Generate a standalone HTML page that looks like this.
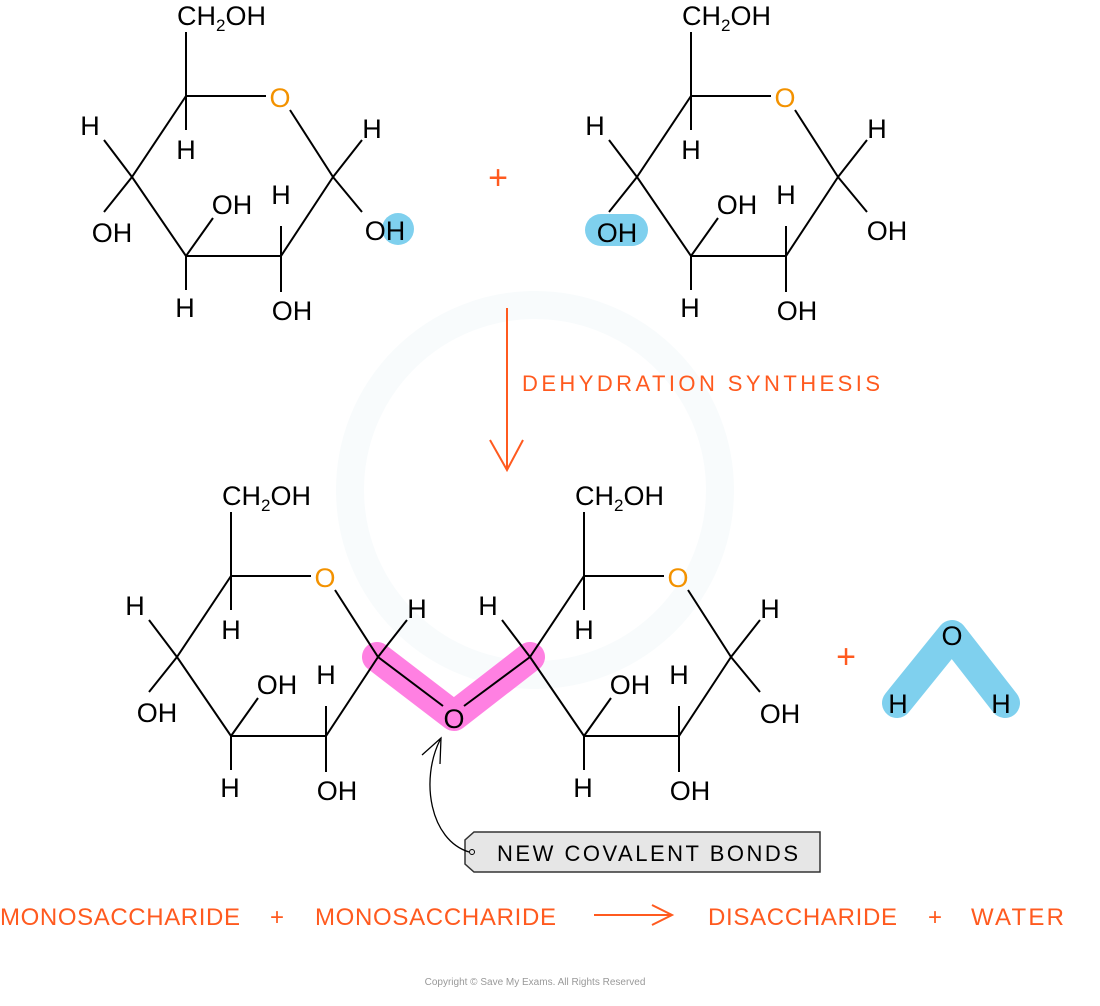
<!DOCTYPE html>
<html><head><meta charset="utf-8"><style>
html,body{margin:0;padding:0;background:#fff;}
svg{display:block;}
text{font-family:"Liberation Sans",Arial,sans-serif;}
</style></head><body>
<svg width="1100" height="1006" viewBox="0 0 1100 1006" xmlns="http://www.w3.org/2000/svg">
<circle cx="535" cy="490" r="185" fill="none" stroke="#f8fbfc" stroke-width="28"/>

<circle cx="398" cy="229" r="16" fill="#7fd0ee"/>
<rect x="585" y="214" width="63" height="32" rx="16" fill="#7fd0ee"/>
<polyline points="377,657 454,716 530,657" fill="none" stroke="#ff80e2" stroke-width="30" stroke-linecap="round" stroke-linejoin="round"/>
<polyline points="897,703 952,635 1005,703" fill="none" stroke="#7fd0ee" stroke-width="30" stroke-linecap="round" stroke-linejoin="round"/>

<g stroke="#000" stroke-width="2" fill="none">
<g>
<path d="M186 32V96H266M186 96V130M186 96L132 177L186 256H281L333 177L290 110M186 256L213 218M186 256V290M281 256V226M281 256V292M104 140L132 177L104 212M333 177L362 140M333 177L362 212"/>
</g>
<g transform="translate(505,0)">
<path d="M186 32V96H266M186 96V130M186 96L132 177L186 256H281L333 177L290 110M186 256L213 218M186 256V290M281 256V226M281 256V292M104 140L132 177L104 212M333 177L362 140M333 177L362 212"/>
</g>
<g transform="translate(45,480)">
<path d="M186 32V96H266M186 96V130M186 96L132 177L186 256H281L333 177L290 110M186 256L213 218M186 256V290M281 256V226M281 256V292M104 140L132 177L104 212M333 177L362 140M333 177L398 226"/>
</g>
<g transform="translate(398,480)">
<path d="M186 32V96H266M186 96V130M186 96L132 177L186 256H281L333 177L290 110M186 256L213 218M186 256V290M281 256V226M281 256V292M104 140L132 177M132 177L66 226M333 177L362 140M333 177L362 212"/>
</g>
</g>

<g font-size="27" fill="#000" text-anchor="middle">
<g>
<text x="177" y="25" text-anchor="start">CH<tspan font-size="17" dy="6">2</tspan><tspan dy="-6">OH</tspan></text>
<text x="280" y="107" fill="#f39200">O</text>
<text x="186" y="159">H</text><text x="232" y="214">OH</text><text x="185" y="317">H</text>
<text x="281" y="204">H</text><text x="292" y="320">OH</text>
<text x="90" y="135">H</text><text x="112" y="242">OH</text>
<text x="372" y="138">H</text><text x="385" y="240">OH</text>
</g>
<g transform="translate(505,0)">
<text x="177" y="25" text-anchor="start">CH<tspan font-size="17" dy="6">2</tspan><tspan dy="-6">OH</tspan></text>
<text x="280" y="107" fill="#f39200">O</text>
<text x="186" y="159">H</text><text x="232" y="214">OH</text><text x="185" y="317">H</text>
<text x="281" y="204">H</text><text x="292" y="320">OH</text>
<text x="90" y="135">H</text><text x="112" y="242">OH</text>
<text x="372" y="138">H</text><text x="382" y="240">OH</text>
</g>
<g transform="translate(45,480)">
<text x="177" y="25" text-anchor="start">CH<tspan font-size="17" dy="6">2</tspan><tspan dy="-6">OH</tspan></text>
<text x="280" y="107" fill="#f39200">O</text>
<text x="186" y="159">H</text><text x="232" y="214">OH</text><text x="185" y="317">H</text>
<text x="281" y="204">H</text><text x="292" y="320">OH</text>
<text x="90" y="135">H</text><text x="112" y="242">OH</text>
<text x="372" y="138">H</text>
</g>
<g transform="translate(398,480)">
<text x="177" y="25" text-anchor="start">CH<tspan font-size="17" dy="6">2</tspan><tspan dy="-6">OH</tspan></text>
<text x="280" y="107" fill="#f39200">O</text>
<text x="186" y="159">H</text><text x="232" y="214">OH</text><text x="185" y="317">H</text>
<text x="281" y="204">H</text><text x="292" y="320">OH</text>
<text x="90" y="135">H</text>
<text x="372" y="138">H</text><text x="382" y="243">OH</text>
</g>
<text x="454" y="728">O</text>
<text x="952" y="645">O</text>
<text x="898" y="713">H</text>
<text x="1001" y="713">H</text>
</g>

<g fill="#ff5a1f" font-size="34" text-anchor="middle">
<text x="498" y="189">+</text>
<text x="846" y="668">+</text>
</g>
<g stroke="#ff5a1f" stroke-width="2" fill="none">
<path d="M507 308V470M490 440L507 470L523 440"/>
<path d="M594 915H670M652 905L672 915L652 925"/>
</g>
<text x="522" y="391" font-size="22" fill="#ff5a1f" textLength="358">DEHYDRATION SYNTHESIS</text>

<path d="M474 832H820V872H474L465 864V840Z" fill="#e6e6e6" stroke="#333" stroke-width="1.5"/>
<circle cx="472" cy="852" r="2.5" fill="none" stroke="#000" stroke-width="1"/>
<path d="M469 852C430 840 420 780 440 740M422 755L441 738L440 764" fill="none" stroke="#000" stroke-width="1.3"/>
<text x="497" y="861" font-size="22" fill="#000" textLength="301">NEW COVALENT BONDS</text>

<g font-size="24" fill="#ff5a1f">
<text x="0" y="925" textLength="240">MONOSACCHARIDE</text>
<text x="270" y="925">+</text>
<text x="315" y="925" textLength="241">MONOSACCHARIDE</text>
<text x="708" y="925" textLength="189">DISACCHARIDE</text>
<text x="928" y="925">+</text>
<text x="971" y="925" textLength="93">WATER</text>
</g>
<text x="535" y="985" font-size="10" fill="#999" text-anchor="middle">Copyright © Save My Exams. All Rights Reserved</text>
</svg>
</body></html>
